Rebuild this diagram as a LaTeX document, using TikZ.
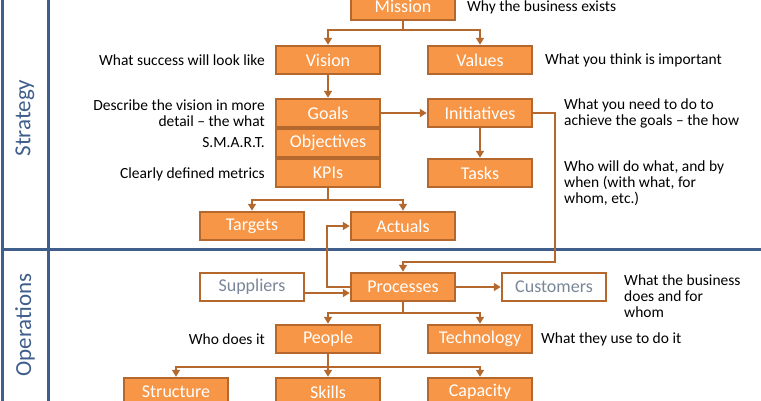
\documentclass[tikz,border=0pt]{standalone}
\usepackage{fontspec}
\setmainfont{Carlito}
\usetikzlibrary{arrows.meta}
\definecolor{org}{HTML}{F79646}
\definecolor{orgd}{HTML}{B5682E}
\definecolor{frm}{HTML}{3F5E8C}
\definecolor{gtx}{HTML}{7A8798}
\begin{document}
\begin{tikzpicture}[x=1pt,y=-1pt,
  bx/.style={draw=orgd,line width=2.5pt,fill=org,text=white,minimum width=104pt,minimum height=28pt,inner sep=0pt,font=\fontsize{18}{18}\selectfont},
  wbx/.style={bx,fill=white,text=gtx},
  ann/.style={font=\fontsize{15.5}{16}\selectfont,inner sep=0pt},
  cn/.style={draw=orgd,line width=2.5pt,-{Triangle[length=7pt,width=8pt]}},
  ln/.style={draw=orgd,line width=2.5pt}]
\useasboundingbox (0,0) rectangle (761,400);
% frame
\draw[frm,line width=3pt] (2,-5) -- (2,405);
\draw[frm,line width=3pt] (48,-5) -- (48,405);
\draw[frm,line width=3pt] (2,249) -- (770,249);
\node[rotate=90,text=frm,font=\fontsize{23}{23}\selectfont] (strat) at (25,118) {Strategy};
\node[rotate=90,text=frm,font=\fontsize{23}{23}\selectfont] (oper) at (25,325) {Operations};
% boxes
\node[bx] (mission) at (403,6) {Mission};
\node[bx] (vision) at (328,60) {Vision};
\node[bx] (values) at (480,60) {Values};
\node[bx] (goals) at (328,113) {Goals};
\node[bx] (obj) at (328,143) {Objectives};
\node[bx] (kpi) at (328,173) {KPIs};
\node[bx] (init) at (480,113) {Initiatives};
\node[bx] (tasks) at (480,173) {Tasks};
\node[bx] (targets) at (252,226) {Targets};
\node[bx] (actuals) at (403,226) {Actuals};
\node[bx] (proc) at (403,287) {Processes};
\node[wbx] (supp) at (252,287) {Suppliers};
\node[wbx] (cust) at (554,287) {Customers};
\node[bx] (people) at (328,339) {People};
\node[bx] (tech) at (480,339) {Technology};
\node[bx] (struct) at (176,392) {Structure};
\node[bx] (skills) at (328,392) {Skills};
\node[bx] (cap) at (480,392) {Capacity};
% connectors
\coordinate (m1) at (403,30);
\draw[ln] (mission.south) -- (m1);
\draw[cn] (m1) -| (vision.north);
\draw[cn] (m1) -| (values.north);
\draw[cn] (vision) -- (goals);
\draw[cn] (goals) -- (init);
\draw[cn] (init) -- (tasks);
\coordinate (i1) at (555,113);
\coordinate (i2) at (555,262);
\coordinate (i3) at (403,262);
\draw[cn] (init.east) -- (i1) -- (i2) -- (i3) -- (proc.north);
\coordinate (k1) at (328,200);
\draw[ln] (kpi.south) -- (k1);
\draw[cn] (k1) -| (targets.north);
\draw[cn] (k1) -| (actuals.north);
\coordinate (p1) at (327,287);
\coordinate (p2) at (327,226);
\draw[cn] (proc.west) -- (p1) -- (p2) -- (actuals.west);
\draw[cn] (supp.east |- 0,293) -- (proc.west |- 0,293);
\draw[cn] (proc) -- (cust);
\coordinate (q1) at (403,313);
\draw[ln] (proc.south) -- (q1);
\draw[cn] (q1) -| (people.north);
\draw[cn] (q1) -| (tech.north);
\coordinate (r1) at (328,367);
\draw[ln] (people.south) -- (r1);
\draw[cn] (r1) -| (struct.north);
\draw[cn] (r1) -- (skills.north);
\draw[cn] (r1) -| (cap.north);
% annotations
\node[ann,anchor=west] (a1) at (467,7) {Why the business exists};
\node[ann,anchor=east] (a2) at (265,60) {What success will look like};
\node[ann,anchor=west] (a3) at (545,60) {What you think is important};
\node[ann,anchor=east,align=right] (a4) at (265,113) {Describe the vision in more\\detail – the what};
\node[ann,anchor=east] (a5) at (265,143) {S.M.A.R.T.};
\node[ann,anchor=east] (a6) at (265,174) {Clearly defined metrics};
\node[ann,anchor=west,align=left] (a7) at (564,113) {What you need to do to\\achieve the goals – the how};
\node[ann,anchor=west,align=left] (a8) at (564,183) {Who will do what, and by\\when (with what, for\\whom, etc.)};
\node[ann,anchor=west,align=left] (a9) at (624,296) {What the business\\does and for\\whom};
\node[ann,anchor=east] (a10) at (265,339) {Who does it};
\node[ann,anchor=west] (a11) at (541,339) {What they use to do it};
\end{tikzpicture}
\end{document}
